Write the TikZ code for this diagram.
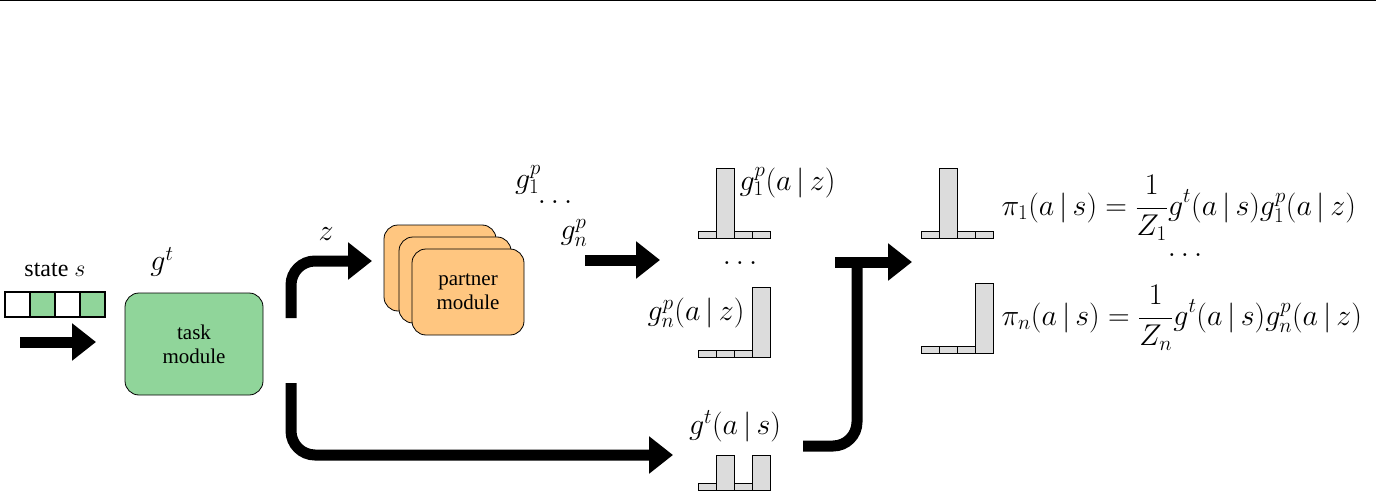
\documentclass[tikz,border=0pt]{standalone}
\usepackage{fix-cm}
\usepackage{fontspec}
\setmainfont{Liberation Serif}
\usetikzlibrary{arrows.meta}
\definecolor{tgreen}{HTML}{90D59A}
\definecolor{porange}{HTML}{FFC680}
\definecolor{bar}{HTML}{DCDCDC}
\begin{document}
\begin{tikzpicture}[x=1pt,y=-1pt,
  flow/.style={line width=11pt,-{Triangle[length=24pt,width=36pt]}},
  module/.style={draw,line width=0.8pt,rounded corners=14pt,align=center,font=\fontsize{21}{24}\selectfont},
  lbl/.style={font=\fontsize{30}{34}\selectfont},
  hb/.style={draw,fill=bar,line width=0.8pt}]
\useasboundingbox (0,0) rectangle (1376,492);
\draw[line width=1pt] (0,1) -- (1376,1);
% state
\node[font=\fontsize{24}{28}\selectfont] (st) at (55,270) {state $s$};
\foreach \i/\c in {0/white,1/tgreen,2/white,3/tgreen}
  \draw[fill=\c,line width=2.5pt] (5+25*\i,292) rectangle (30+25*\i,317);
\coordinate (a0) at (20,342);
\coordinate (a1) at (96,342);
\draw[flow] (a0) -- (a1);
% task module
\node[module,fill=tgreen,minimum width=138pt,minimum height=102pt] (task) at (194,344) {task\\module};
\node[lbl] (gt) at (162,262) {$g^t$};
% partner modules
\node[module,fill=porange,minimum width=112pt,minimum height=86pt] (p3) at (440,268) {};
\node[module,fill=porange,minimum width=112pt,minimum height=86pt] (p2) at (455,280) {};
\node[module,fill=porange,minimum width=112pt,minimum height=86pt] (p1) at (468,292) {partner\\module};
\node[lbl] (g1p) at (528,180) {$g_1^p$};
\node[lbl] (pd) at (555,202) {$\dots$};
\node[lbl] (gnp) at (574,233) {$g_n^p$};
% arrows from task
\coordinate (u0) at (291,318);
\coordinate (u1) at (372,261);
\draw[flow,rounded corners=24pt] (u0) |- (u1);
\node[lbl] (z) at (326,234) {$z$};
\coordinate (d0) at (291,383);
\coordinate (d1) at (673,455);
\draw[flow,rounded corners=24pt] (d0) |- (d1);
\coordinate (m0) at (585,260);
\coordinate (m1) at (660,260);
\draw[flow] (m0) -- (m1);
% histograms
\foreach \x/\y/\t in {698/238/2, 698/357/4, 921/238/2, 921/353/4}{
  \foreach \k in {1,2,3,4}{
    \ifnum\k=\t
      \draw[hb] (\x+18*\k-18,\y) rectangle (\x+18*\k,\y-70);
    \else
      \draw[hb] (\x+18*\k-18,\y) rectangle (\x+18*\k,\y-7);
    \fi}}
\foreach \k/\h in {1/7,2/35,3/7,4/35}
  \draw[hb] (698+18*\k-18,490) rectangle (698+18*\k,490-\h);
\node[lbl,anchor=west] (l1) at (736,183) {$g_1^p(a\,|\,z)$};
\node[lbl] (hd) at (740,263) {$\dots$};
\node[lbl,anchor=east] (ln) at (748,313) {$g_n^p(a\,|\,z)$};
\node[lbl] (lt) at (735,426) {$g^t(a\,|\,s)$};
% merge arrow
\coordinate (j0) at (803,446);
\coordinate (j1) at (857,262);
\draw[line width=11pt,rounded corners=24pt] (j0) -| (j1);
\coordinate (h0) at (835,262);
\coordinate (h1) at (912,262);
\draw[flow] (h0) -- (h1);
% equations
\node[lbl,anchor=west] (e1) at (998,208) {$\displaystyle\pi_1(a\,|\,s)=\frac{1}{Z_1}g^t(a\,|\,s)g_1^p(a\,|\,z)$};
\node[lbl] (ed) at (1185,255) {$\dots$};
\node[lbl,anchor=west] (e2) at (998,318) {$\displaystyle\pi_n(a\,|\,s)=\frac{1}{Z_n}g^t(a\,|\,s)g_n^p(a\,|\,z)$};
\end{tikzpicture}
\end{document}
